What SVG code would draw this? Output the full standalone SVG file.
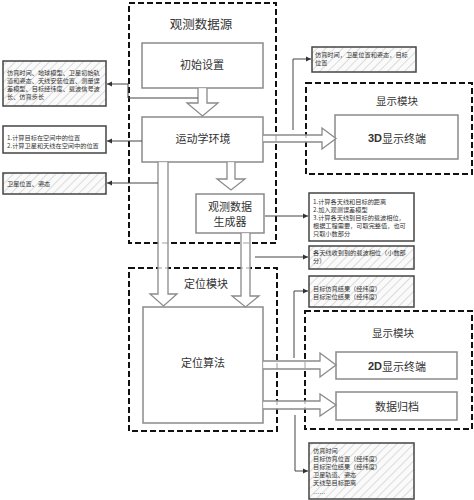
<svg xmlns="http://www.w3.org/2000/svg" width="474" height="500" viewBox="0 0 474 500">
<style>
text{font-family:"Noto Sans CJK SC","Noto Sans",sans-serif;fill:#333}
.t{font-size:11px;text-anchor:middle;dominant-baseline:central}
.tl{font-size:12.5px;text-anchor:middle;dominant-baseline:central}
.n{font-size:6.2px;dominant-baseline:central}
.dash{fill:none;stroke:#111;stroke-width:2;stroke-dasharray:6 3}
.box{fill:#fff;stroke:#8a8a8a;stroke-width:1.5}
.note{stroke:#444;stroke-width:1.5}
.hol{fill:#fff;fill-opacity:0.8;stroke:#8a8a8a;stroke-width:1.3;stroke-linejoin:miter}
.con{fill:none;stroke:#444;stroke-width:1}
</style>
<defs>
<pattern id="hatch" width="6" height="6" patternUnits="userSpaceOnUse" patternTransform="rotate(45)">
<rect width="6" height="6" fill="#fafafa"/>
<line x1="0" y1="0" x2="0" y2="6" stroke="#d4d4d4" stroke-width="1.6"/>
</pattern>
<marker id="ah" markerWidth="6" markerHeight="6" refX="5" refY="3" orient="auto" markerUnits="userSpaceOnUse">
<path d="M0,0.5 L5,3 L0,5.5 Z" fill="#333"/>
</marker>
</defs>

<g id="source">
<rect class="dash" x="129" y="3" width="147" height="240"/>
<text class="tl" x="201" y="23">观测数据源</text>
</g>
<g id="display3d-module">
<rect class="dash" x="306" y="83" width="166" height="91"/>
<text class="t" x="397" y="100" style="font-size:10.5px">显示模块</text>
</g>
<g id="locate-module">
<rect class="dash" x="129" y="268" width="148" height="163"/>
<text class="t" x="206" y="283">定位模块</text>
</g>
<g id="display2d-module">
<rect class="dash" x="305" y="311" width="167" height="118"/>
<text class="t" x="393" y="332" style="font-size:10.5px">显示模块</text>
</g>

<g id="init"><rect class="box" x="142" y="43" width="121" height="45"/><text class="t" x="202" y="64">初始设置</text></g>
<g id="kinematics"><rect class="box" x="142" y="117" width="121" height="45"/><text class="t" x="203" y="138">运动学环境</text></g>
<g id="generator"><rect class="box" x="196" y="194" width="68" height="39"/><text class="t" x="230" y="206">观测数据</text><text class="t" x="230" y="221">生成器</text></g>
<g id="term3d"><rect class="box" x="335" y="115" width="123" height="44"/><text class="t" x="397" y="138"><tspan font-family="Liberation Sans,sans-serif" font-weight="bold">3D</tspan>显示终端</text></g>
<g id="algo"><rect class="box" x="143" y="307" width="120" height="116"/><text class="t" x="203" y="362">定位算法</text></g>
<g id="term2d"><rect class="box" x="336" y="352" width="121" height="27"/><text class="t" x="397" y="366"><tspan font-family="Liberation Sans,sans-serif" font-weight="bold">2D</tspan>显示终端</text></g>
<g id="archive"><rect class="box" x="336" y="392" width="121" height="28"/><text class="t" x="397" y="406">数据归档</text></g>

<g id="note1"><rect class="note" fill="url(#hatch)" x="3" y="61" width="103" height="45"/>
<text class="n" x="7" y="72">仿真时间、地球模型、卫星初始轨</text>
<text class="n" x="7" y="80">道和姿态、天线安装位置、测量误</text>
<text class="n" x="7" y="88">差模型、目标经纬度、载波信号波</text>
<text class="n" x="7" y="96">长、仿真步长</text></g>
<g id="note2"><rect class="note" fill="#fff" x="3" y="126" width="103" height="27"/>
<text class="n" x="7" y="137">1.计算目标在空间中的位置</text>
<text class="n" x="7" y="145">2.计算卫星和天线在空间中的位置</text></g>
<g id="note3"><rect class="note" fill="url(#hatch)" x="3" y="173" width="103" height="21"/>
<text class="n" x="7" y="183">卫星位置、姿态</text></g>
<g id="note4"><rect class="note" fill="url(#hatch)" x="312" y="47" width="104" height="25"/>
<text class="n" x="315" y="54">仿真时间，卫星位置和姿态，目标</text>
<text class="n" x="315" y="62">位置</text></g>
<g id="note5"><rect class="note" fill="#fff" x="309" y="193" width="105" height="48"/>
<text class="n" x="313" y="201">1.计算各天线和目标的距离</text>
<text class="n" x="313" y="209">2.加入观测误差模型</text>
<text class="n" x="313" y="217">3.计算各天线到目标的载波相位，</text>
<text class="n" x="313" y="225">根据工程需要，可取完整值，也可</text>
<text class="n" x="313" y="233">只取小数部分</text></g>
<g id="note6"><rect class="note" fill="url(#hatch)" x="309" y="246" width="105" height="23"/>
<text class="n" x="313" y="252">各天线收到到的载波相位（小数部</text>
<text class="n" x="313" y="260">分）</text></g>
<g id="note7"><rect class="note" fill="url(#hatch)" x="309" y="276" width="105" height="31"/>
<text class="n" x="313" y="288">目标仿真结果（经纬度）</text>
<text class="n" x="313" y="296">目标定位结果（经纬度）</text></g>
<g id="note8"><rect class="note" fill="url(#hatch)" x="309" y="443" width="105" height="56"/>
<text class="n" x="313" y="450">仿真时间</text>
<text class="n" x="313" y="458">目标仿真位置（经纬度）</text>
<text class="n" x="313" y="466">目标定位结果（经纬度）</text>
<text class="n" x="313" y="474">卫星轨道、姿态</text>
<text class="n" x="313" y="482">天线至目标距离</text>
<text class="n" x="313" y="493">……</text></g>

<g id="connectors">
<path class="hol" d="M198,88 V103 H187 L202.5,116 L218,103 H207 V88"/>
<path class="hol" d="M263,135 H322 V128 L336,138.5 L322,149 V142 H263"/>
<path class="hol" d="M158,162 V294 H150 L163.5,306 L177,294 H168 V162"/>
<path class="hol" d="M227,162 V179 H217 L231,190 L245,179 H235 V162"/>
<path class="hol" d="M241,233 V296 H232 L245.5,307 L259,296 H250 V233"/>
<path class="hol" d="M263,361 H320 V353 L336,365 L320,377 V369 H263"/>
<path class="hol" d="M263,401 H320 V394 L336,405 L320,416 V409 H263"/>
<path class="con" marker-end="url(#ah)" d="M198,98 H128 V84 H107"/>
<path class="con" marker-end="url(#ah)" d="M142,141 H107"/>
<path class="con" marker-end="url(#ah)" d="M158,183 H107"/>
<path class="con" marker-end="url(#ah)" d="M293,130 V59 H311"/>
<path class="con" marker-end="url(#ah)" d="M265,216 H308"/>
<path class="con" marker-end="url(#ah)" d="M255,257 H308"/>
<path class="con" marker-end="url(#ah)" d="M294,358 V291 H308"/>
<path class="con" marker-end="url(#ah)" d="M295,415 V471 H308"/>
</g>
</svg>
